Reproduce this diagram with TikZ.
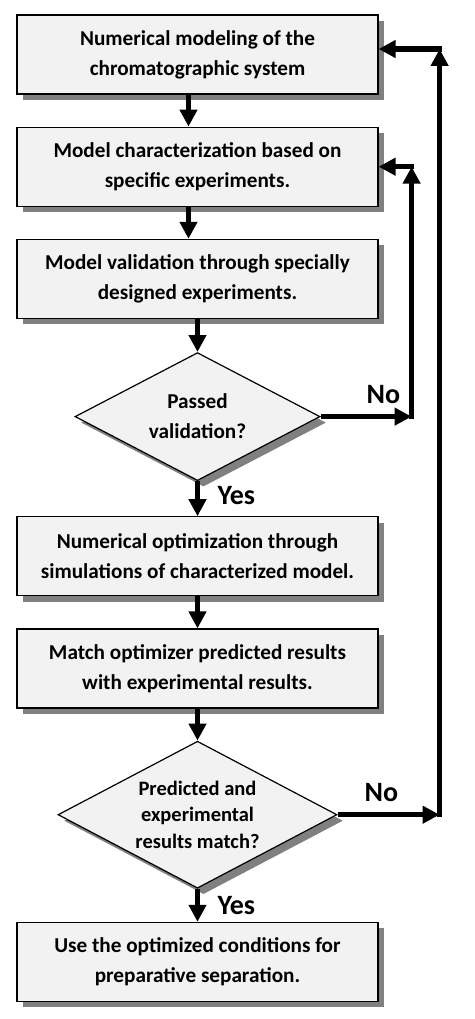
\documentclass[tikz,border=0pt]{standalone}
\usepackage{fontspec}
\setmainfont{Carlito}
\usetikzlibrary{arrows.meta, positioning, shapes.geometric, shadows}

\begin{document}
\begin{tikzpicture}[
      x=1pt, y=-1pt,
      font=\bfseries\fontsize{21.2}{30}\selectfont,
      shade/.style={drop shadow={shadow xshift=6pt, shadow yshift=-6pt, fill=black!50, opacity=1}},
      block/.style={draw, rectangle, fill=black!5, line width=1.2pt, minimum width=361pt, minimum height=79pt, align=center, shade},
      decision/.style={draw, diamond, fill=black!5, line width=1.2pt, align=center, inner sep=0pt, shape aspect=1.9, shade},
      flow/.style={line width=5.5pt, -{Triangle[length=17pt, width=17pt]}},
      answer/.style={font=\bfseries\fontsize{28}{30}\selectfont},
      node distance=32pt
    ]
    \useasboundingbox (0,0) rectangle (474,1019);

    % Nodes
    \node[block] (model) at (197.5,54.5) {Numerical modeling of the\\chromatographic system};
    \node[block, below=of model] (charac) {Model characterization based on\\specific experiments.};
    \node[block, below=of charac] (valid) {Model validation through specially\\designed experiments.};
    \node[decision, below=33pt of valid, minimum width=245pt, minimum height=128pt] (passed) {Passed\\validation?};
    \node[block, below=35pt of passed] (optim) {Numerical optimization through\\simulations of characterized model.};
    \node[block, below=of optim] (compare) {Match optimizer predicted results\\with experimental results.};
    \node[decision, below=of compare, minimum width=279pt, minimum height=147pt,
      font=\bfseries\fontsize{20.5}{26.5}\selectfont] (match) {Predicted and\\experimental\\results match?};
    \node[block, below=33pt of match] (final) {Use the optimized conditions for\\preparative separation.};

    % Arrows
    \draw[flow] ([xshift=-9pt]model.south) -- ([xshift=-9pt]charac.north);
    \draw[flow] ([xshift=-9pt]charac.south) -- ([xshift=-9pt]valid.north);
    \draw[flow] (valid.south) -- (passed.north);
    \draw[flow] (passed.south) -- (optim.north) node[midway, right=14pt, yshift=3pt, answer] {Yes};
    \draw[flow] (optim.south) -- (compare.north);
    \draw[flow] (compare.south) -- (match.north);
    \draw[flow] (match.south) -- (final.north) node[midway, right=14pt, answer] {Yes};

    % Feedback loops
    \path (passed.east) ++(91,0) coordinate (fbin);
    \coordinate (fbtop) at (fbin |- charac.east);
    \draw[flow] (passed.east) -- (fbin) node[pos=0.69, above, inner sep=10pt, answer] {No};
    \draw[flow] ([yshift=-2.75pt]fbin) -- (fbtop);
    \draw[flow] ([xshift=2.75pt]fbtop) -- (fbtop -| charac.east);

    \path (match.east) ++(102,0) coordinate (fbout);
    \path (fbout |- model.east) ++(0,-5.5) coordinate (fbouttop);
    \draw[flow] (match.east) -- (fbout) node[pos=0.43, above, inner sep=10pt, answer] {No};
    \draw[flow] ([yshift=-2.75pt]fbout) -- (fbouttop);
    \draw[flow] ([xshift=2.75pt]fbouttop) -- (fbouttop -| model.east);

  \end{tikzpicture}
\end{document}
